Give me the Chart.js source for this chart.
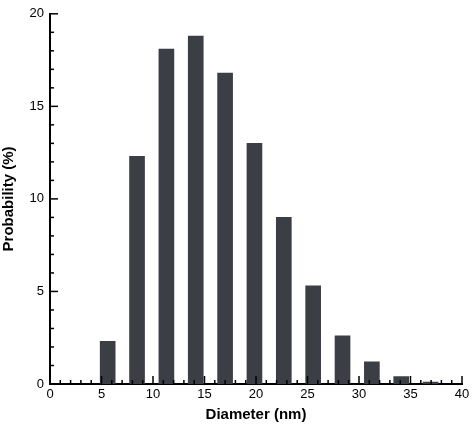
<!DOCTYPE html>
<html>
<head>
<meta charset="UTF-8">
<script src="https://cdn.jsdelivr.net/npm/chart.js"></script>
<style>
  body { margin: 0; background: #fff; }
  #wrap { width: 474px; height: 424px; }
</style>
</head>
<body>
<div id="wrap"><canvas id="c"></canvas></div>
<script>
  // bin centres (nm) and probabilities (%)
  const diameters = [5.6, 8.45, 11.3, 14.15, 17.0, 19.85, 22.7, 25.55, 28.4, 31.25, 34.1, 36.95];
  const probability = [2.3, 12.3, 18.1, 18.8, 16.8, 13.0, 9.0, 5.3, 2.6, 1.2, 0.4, 0.1];

  // inward major/minor ticks like the original plot
  const inwardTicks = {
    id: 'inwardTicks',
    afterDraw(chart) {
      const ctx = chart.ctx, x = chart.scales.x, y = chart.scales.y;
      ctx.save();
      ctx.strokeStyle = '#000';
      ctx.lineWidth = 1.5;
      for (let v = 0; v <= 40; v++) {
        const px = x.getPixelForValue(v);
        const len = v % 5 === 0 ? 8 : 4;
        ctx.beginPath(); ctx.moveTo(px, y.bottom); ctx.lineTo(px, y.bottom - len); ctx.stroke();
      }
      for (let v = 0; v <= 20; v++) {
        const py = y.getPixelForValue(v);
        const len = v % 5 === 0 ? 8 : 4;
        ctx.beginPath(); ctx.moveTo(x.left, py); ctx.lineTo(x.left + len, py); ctx.stroke();
      }
      ctx.restore();
    }
  };

  new Chart(document.getElementById('c'), {
    type: 'bar',
    data: {
      datasets: [{
        data: diameters.map((d, i) => ({ x: d, y: probability[i] })),
        backgroundColor: '#3b3e44',
        barThickness: 15
      }]
    },
    options: {
      responsive: true,
      maintainAspectRatio: false,
      animation: false,
      layout: { padding: { top: 10, right: 12, left: 0, bottom: 0 } },
      plugins: { legend: { display: false }, tooltip: { enabled: false } },
      scales: {
        x: {
          type: 'linear', min: 0, max: 40, offset: false,
          grid: { display: false, drawTicks: false },
          border: { color: '#000', width: 2 },
          ticks: { stepSize: 5, color: '#000', padding: 3, maxRotation: 0,
                   font: { family: 'Arial, Liberation Sans', size: 13 } },
          title: { display: true, text: 'Diameter (nm)', color: '#000', padding: 0,
                   font: { family: 'Arial, Liberation Sans', size: 15, weight: 'bold' } },
          afterFit(s) { s.height = 40; }
        },
        y: {
          min: 0, max: 20,
          grid: { display: false, drawTicks: false },
          border: { color: '#000', width: 2 },
          ticks: { stepSize: 5, color: '#000', padding: 6,
                   font: { family: 'Arial, Liberation Sans', size: 13 } },
          title: { display: true, text: 'Probability (%)', color: '#000', padding: 0,
                   font: { family: 'Arial, Liberation Sans', size: 15, weight: 'bold' } },
          afterFit(s) { s.width = 50; }
        }
      }
    },
    plugins: [inwardTicks]
  });
</script>
</body>
</html>
